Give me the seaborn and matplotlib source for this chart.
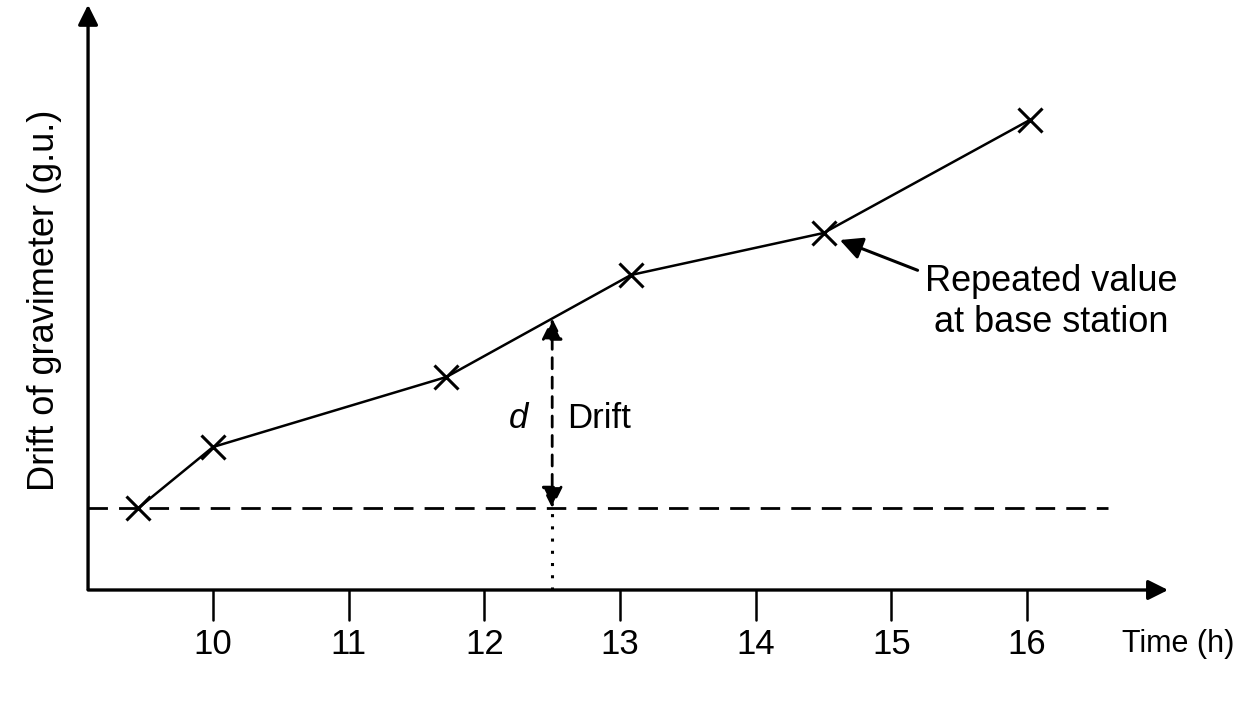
# gravimeter drift diagram
import numpy as np
import pandas as pd
import matplotlib.pyplot as plt
import seaborn as sns

sns.set_style("white")
plt.rcParams['font.family'] = ['Liberation Sans', 'DejaVu Sans']
plt.rcParams['text.color'] = 'black'

# Lecturas repetidas en la estación base
tiempo = [9.45, 10.0, 11.72, 13.08, 14.5, 16.02]
deriva = [0.0, 0.61, 1.31, 2.33, 2.75, 3.88]
ticks_x = [10, 11, 12, 13, 14, 15, 16]
t_drift = 12.5

df = pd.DataFrame({'Time': tiempo, 'Drift': deriva})

fig = plt.figure(figsize=(12.36, 7.18), dpi=100)
ax = fig.add_axes([0, 0, 1, 1])
ax.set_xlim(8.43, 17.54)
ax.set_ylim(-2.10, 5.08)
ax.axis('off')

x0, y0 = 9.079, -0.82  # origen de los ejes dibujados

# ejes con flecha
ax.annotate('', xy=(17.06, y0), xytext=(x0 - 0.02, y0),
            arrowprops=dict(arrowstyle='-|>', color='black', lw=2.4, mutation_scale=30))
ax.annotate('', xy=(x0, 5.06), xytext=(x0, y0 - 0.02),
            arrowprops=dict(arrowstyle='-|>', color='black', lw=2.4, mutation_scale=30))

for t in ticks_x:
    ax.plot([t, t], [y0, y0 - 0.3], color='black', lw=1.8)
    ax.text(t, -1.36, str(t), ha='center', va='center', fontsize=25)
# el texto del eje x llega hasta el borde derecho
ax.text(17.53, -1.36, 'Time (h)', ha='right', va='center', fontsize=22)

ax.text(8.76, 2.08, 'Drift of gravimeter (g.u.)', rotation=90,
        ha='center', va='center', fontsize=26)

# línea base
ax.plot([x0, 16.6], [0, 0], color='black', lw=2, linestyle=(0, (7, 4)))

# curva de deriva
sns.lineplot(data=df, x='Time', y='Drift', ax=ax, color='black', lw=1.8,
             marker='x', markersize=17, markeredgewidth=2.2, markeredgecolor='black')

# flecha de deriva d
y_line = np.interp(t_drift, tiempo, deriva)
ax.plot([t_drift, t_drift], [y0, 0], color='black', lw=2.2, linestyle=(0, (1, 3)))
ax.annotate('', xy=(t_drift, y_line), xytext=(t_drift, 0),
            arrowprops=dict(arrowstyle='<|-|>', color='black', lw=2,
                            linestyle=(0, (4, 3)), mutation_scale=32,
                            shrinkA=0, shrinkB=0))
ax.text(12.25, 0.9, 'd', style='italic', ha='center', va='center', fontsize=25)
ax.text(12.61, 0.9, 'Drift', ha='left', va='center', fontsize=25)

ax.annotate('Repeated value\nat base station', xy=(14.62, 2.68), xytext=(16.18, 2.06),
            ha='center', va='center', fontsize=26, linespacing=1.25,
            arrowprops=dict(arrowstyle='-|>', color='black', lw=2.2, mutation_scale=34,
                            shrinkA=2, shrinkB=0, relpos=(-0.02, 0.9)))

plt.savefig('out.png', dpi=100)
